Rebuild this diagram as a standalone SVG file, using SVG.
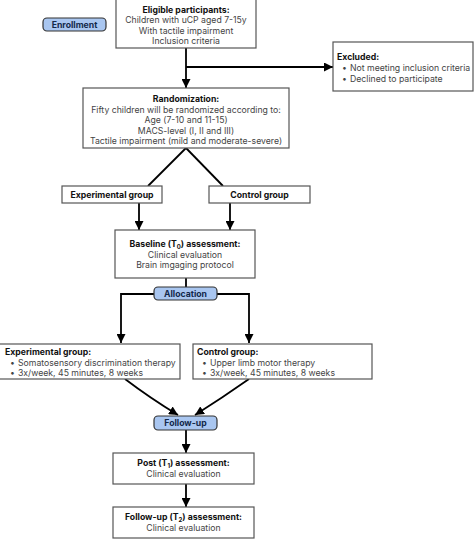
<svg xmlns="http://www.w3.org/2000/svg" width="474" height="540" viewBox="0 0 474 540">
<style>
.box{fill:#fff;stroke:#555;stroke-width:1.2}
.pill{fill:#a9c6f0;stroke:#333;stroke-width:1.2}
.t{font-family:Inter,"Liberation Sans",sans-serif;font-size:8.7px;fill:#444}
.b{font-family:Inter,"Liberation Sans",sans-serif;font-size:8.7px;font-weight:bold;fill:#111}
.p{font-family:Inter,"Liberation Sans",sans-serif;font-size:8.7px;font-weight:bold;fill:#13294b}
.c{text-anchor:middle}
.ln{fill:none;stroke:#000;stroke-width:1.8}
</style>
<defs>
<marker id="ah" viewBox="0 0 10 10" refX="10" refY="5" markerWidth="5" markerHeight="5" markerUnits="strokeWidth" orient="auto">
<path d="M0,0 L10,5 L0,10 z" fill="#000"/>
</marker>
</defs>
<g id="connectors">
<path class="ln" d="M186,48 V88" marker-end="url(#ah)"/>
<path class="ln" d="M186,67 H333" marker-end="url(#ah)"/>
<path class="ln" d="M186,148 L148,186"/>
<path class="ln" d="M186,148 L223,186"/>
<path class="ln" d="M139,203 V230" marker-end="url(#ah)"/>
<path class="ln" d="M230,203 V230" marker-end="url(#ah)"/>
<path class="ln" d="M186,278 V287"/>
<path class="ln" d="M154,294 H121 V343" marker-end="url(#ah)"/>
<path class="ln" d="M217,294 H249 V343" marker-end="url(#ah)"/>
<path class="ln" d="M125,379 Q150,398 178,415" marker-end="url(#ah)"/>
<path class="ln" d="M249,379 Q222,398 195,415" marker-end="url(#ah)"/>
<path class="ln" d="M186,430 V453" marker-end="url(#ah)"/>
<path class="ln" d="M186,484 V507" marker-end="url(#ah)"/>
</g>
<g id="enrollment">
<rect class="pill" x="43" y="18" width="63" height="13" rx="4"/>
<text class="p c" x="74.5" y="27.6">Enrollment</text>
</g>
<g id="eligible">
<rect class="box" x="116" y="-1" width="140" height="49"/>
<text class="b c" x="186" y="12.5">Eligible participants:</text>
<text class="t c" x="186" y="23">Children with uCP aged 7-15y</text>
<text class="t c" x="186" y="33.5">With tactile impairment</text>
<text class="t c" x="186" y="44">Inclusion criteria</text>
</g>
<g id="excluded">
<rect class="box" x="333" y="42" width="140" height="49"/>
<text class="b" x="337" y="60">Excluded:</text>
<text class="t" x="342" y="71">•</text><text class="t" x="350" y="71">Not meeting inclusion criteria</text>
<text class="t" x="342" y="81.5">•</text><text class="t" x="350" y="81.5">Declined to participate</text>
</g>
<g id="randomization">
<rect class="box" x="83" y="88" width="206" height="60"/>
<text class="b c" x="186" y="102">Randomization:</text>
<text class="t c" x="186" y="112.5">Fifty children will be randomized according to:</text>
<text class="t c" x="186" y="123">Age (7-10 and 11-15)</text>
<text class="t c" x="186" y="133.5">MACS-level (I, II and III)</text>
<text class="t c" x="186" y="144">Tactile impairment (mild and moderate-severe)</text>
</g>
<g id="exp-group">
<rect class="box" x="62" y="186" width="100" height="17"/>
<text class="b c" x="112" y="197.6">Experimental group</text>
</g>
<g id="ctrl-group">
<rect class="box" x="209" y="186" width="101" height="17"/>
<text class="b c" x="259.5" y="197.6">Control group</text>
</g>
<g id="baseline">
<rect class="box" x="115" y="230" width="140" height="48"/>
<text class="b c" x="185" y="247">Baseline (T<tspan font-size="6" dy="2">0</tspan><tspan dy="-2">) assessment:</tspan></text>
<text class="t c" x="185" y="257.5">Clinical evaluation</text>
<text class="t c" x="185" y="268">Brain imgaging protocol</text>
</g>
<g id="allocation">
<rect class="pill" x="154" y="287" width="63" height="13" rx="4"/>
<text class="p c" x="185.5" y="296.6">Allocation</text>
</g>
<g id="exp-therapy">
<rect class="box" x="-1" y="344" width="181" height="35"/>
<text class="b" x="5" y="355">Experimental group:</text>
<text class="t" x="10" y="365.5">•</text><text class="t" x="18" y="365.5">Somatosensory discrimination therapy</text>
<text class="t" x="10" y="376">•</text><text class="t" x="18" y="376">3x/week, 45 minutes, 8 weeks</text>
</g>
<g id="ctrl-therapy">
<rect class="box" x="193" y="344" width="179" height="35"/>
<text class="b" x="197" y="355">Control group:</text>
<text class="t" x="202" y="365.5">•</text><text class="t" x="210" y="365.5">Upper limb motor therapy</text>
<text class="t" x="202" y="376">•</text><text class="t" x="210" y="376">3x/week, 45 minutes, 8 weeks</text>
</g>
<g id="followup-pill">
<rect class="pill" x="154" y="416" width="63" height="14" rx="4"/>
<text class="p c" x="185.5" y="426">Follow-up</text>
</g>
<g id="post">
<rect class="box" x="113" y="453" width="141" height="31"/>
<text class="b c" x="183.5" y="466">Post (T<tspan font-size="6" dy="2">1</tspan><tspan dy="-2">) assessment:</tspan></text>
<text class="t c" x="183.5" y="477">Clinical evaluation</text>
</g>
<g id="followup">
<rect class="box" x="113" y="507" width="141" height="31"/>
<text class="b c" x="183.5" y="520">Follow-up (T<tspan font-size="6" dy="2">2</tspan><tspan dy="-2">) assessment:</tspan></text>
<text class="t c" x="183.5" y="531">Clinical evaluation</text>
</g>
</svg>
